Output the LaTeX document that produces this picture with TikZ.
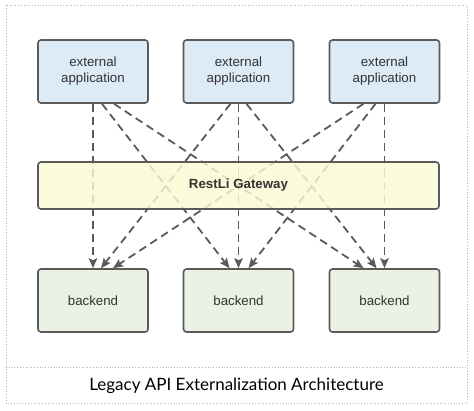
\documentclass[tikz,border=0pt]{standalone}
\usepackage{fontspec}
\setmainfont{Liberation Sans}
\newfontfamily\capfont{Lato}
\usetikzlibrary{arrows.meta}
\definecolor{edge}{HTML}{5A5A5A}
\definecolor{ink}{HTML}{333333}
\definecolor{appfill}{HTML}{DDEBF7}
\definecolor{gatefill}{HTML}{FAFAD4}
\definecolor{backfill}{HTML}{EAF2E3}
\tikzset{
  box/.style={draw=edge, line width=1.6pt, rounded corners=3pt, minimum width=110pt,
    minimum height=63pt, text=ink, align=center, font=\fontsize{13.3}{16}\selectfont},
  link/.style={draw=edge, line width=1.8pt, dash pattern=on 8pt off 5pt,
    -{Stealth[length=10pt,width=8.5pt,inset=2pt]}}
}
\begin{document}
\begin{tikzpicture}[x=1pt,y=-1pt]
      \useasboundingbox (0,0) rectangle (474,411);
      \draw[gray!60, dotted, line width=0.8pt] (6,5) rectangle (467,403);
      \draw[gray!60, dotted, line width=0.8pt] (6,367) -- (467,367);
      \node[text=black, font=\capfont\fontsize{17}{20}\selectfont] (cap) at (236.5,386) {Legacy API Externalization Architecture};
      % apps and backends
      \foreach \i/\x in {1/93,2/238.5,3/384.5} {
        \node[box, fill=appfill] (app\i) at (\x,71.5) {external\\application};
        \node[box, fill=backfill] (back\i) at (\x,300.5) {backend};
      }
      \draw[link] (app1.south) -- (back1.north);
      \draw[link] ([xshift=9pt]app1.south) -- ([xshift=-9pt]back2.north);
      \draw[link] ([xshift=21pt]app1.south) -- ([xshift=-21pt]back3.north);
      \draw[link] ([xshift=-8pt]app2.south) -- ([xshift=8pt]back1.north);
      \draw[link] (app2.south) -- (back2.north);
      \draw[link] ([xshift=8pt]app2.south) -- ([xshift=-8pt]back3.north);
      \draw[link] ([xshift=-21pt]app3.south) -- ([xshift=20pt]back1.north);
      \draw[link] ([xshift=-9pt]app3.south) -- ([xshift=10pt]back2.north);
      \draw[link] (app3.south) -- (back3.north);
      % gateway on top, see-through
      \node[box, fill=gatefill, fill opacity=0.82, text opacity=1, minimum width=401pt,
        minimum height=47pt, font=\fontsize{13.3}{16}\selectfont\bfseries] (gate) at (238.5,185.5) {RestLi Gateway};
    \end{tikzpicture}
\end{document}
